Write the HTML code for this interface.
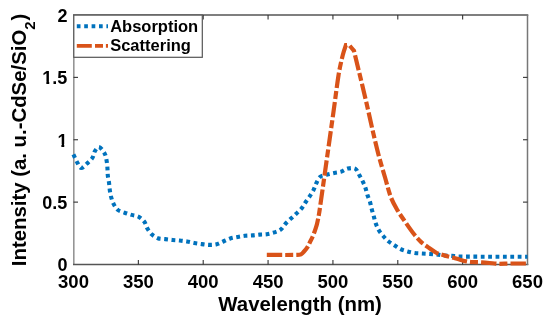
<!DOCTYPE html>
<html><head><meta charset="utf-8"><style>
html,body{margin:0;padding:0;background:#fff;width:550px;height:321px;overflow:hidden}
svg{display:block}
text{font-family:"Liberation Sans",Arial,sans-serif;font-weight:bold;fill:#000}
</style></head><body>
<svg width="550" height="321" viewBox="0 0 550 321">
<rect width="550" height="321" fill="#fff"/>
<g stroke="#333" stroke-width="1.1" fill="none">
<line x1="73.8" y1="15" x2="73.8" y2="265" stroke="#959595" stroke-width="1.6"/>
<line x1="73" y1="15.1" x2="528.3" y2="15.1" stroke="#555" stroke-width="1.5"/>
<line x1="73" y1="264.6" x2="528.3" y2="264.6" stroke="#555" stroke-width="1.5"/>
<line x1="527.5" y1="15" x2="527.5" y2="265" stroke="#777" stroke-width="1.5"/>
<line x1="138.36" y1="264.50" x2="138.36" y2="260.00"/>
<line x1="138.36" y1="15.00" x2="138.36" y2="19.50"/>
<line x1="203.21" y1="264.50" x2="203.21" y2="260.00"/>
<line x1="203.21" y1="15.00" x2="203.21" y2="19.50"/>
<line x1="268.07" y1="264.50" x2="268.07" y2="260.00"/>
<line x1="268.07" y1="15.00" x2="268.07" y2="19.50"/>
<line x1="332.93" y1="264.50" x2="332.93" y2="260.00"/>
<line x1="332.93" y1="15.00" x2="332.93" y2="19.50"/>
<line x1="397.79" y1="264.50" x2="397.79" y2="260.00"/>
<line x1="397.79" y1="15.00" x2="397.79" y2="19.50"/>
<line x1="462.64" y1="264.50" x2="462.64" y2="260.00"/>
<line x1="462.64" y1="15.00" x2="462.64" y2="19.50"/>
<line x1="73.50" y1="202.12" x2="78.00" y2="202.12"/>
<line x1="527.50" y1="202.12" x2="523.00" y2="202.12"/>
<line x1="73.50" y1="139.75" x2="78.00" y2="139.75"/>
<line x1="527.50" y1="139.75" x2="523.00" y2="139.75"/>
<line x1="73.50" y1="77.38" x2="78.00" y2="77.38"/>
<line x1="527.50" y1="77.38" x2="523.00" y2="77.38"/>
</g>
<g>
<path d="M73.40,154.40 C74.77,157.23 75.94,160.18 77.50,162.90 C78.54,164.71 79.74,167.91 81.20,168.00 C82.90,168.11 85.19,165.13 87.00,163.50 C88.89,161.80 90.95,160.10 92.30,158.00 C93.62,155.94 93.73,153.09 95.00,151.00 C95.96,149.42 97.72,146.68 99.00,147.00 C100.92,147.48 103.26,150.98 104.60,153.40 C105.79,155.55 106.12,158.23 106.60,160.70 C107.05,163.00 107.21,165.36 107.40,167.70 C107.61,170.29 107.52,172.92 107.80,175.50 C108.05,177.85 108.68,180.16 109.00,182.50 C109.35,185.02 109.43,187.58 109.80,190.10 C110.16,192.52 110.55,194.95 111.20,197.30 C111.85,199.62 112.58,201.98 113.70,204.10 C114.82,206.22 116.08,208.56 117.90,210.00 C119.71,211.43 122.33,211.89 124.60,212.70 C126.90,213.52 129.25,214.23 131.60,214.90 C133.92,215.56 136.54,215.59 138.60,216.70 C140.80,217.89 142.90,219.78 144.40,221.80 C145.87,223.78 146.24,226.54 147.50,228.70 C148.67,230.70 150.01,232.75 151.70,234.30 C153.47,235.92 155.65,237.40 157.90,238.20 C160.15,239.00 162.77,238.80 165.20,239.10 C167.70,239.40 170.19,239.76 172.70,240.00 C175.03,240.22 177.37,240.26 179.70,240.50 C182.14,240.76 184.58,241.09 187.00,241.50 C189.45,241.92 191.85,242.57 194.30,243.00 C196.79,243.44 199.29,243.78 201.80,244.10 C204.23,244.41 206.66,244.87 209.10,244.90 C211.60,244.93 214.19,244.88 216.60,244.30 C218.89,243.75 221.00,242.43 223.20,241.50 C225.57,240.50 227.86,239.27 230.30,238.50 C232.73,237.74 235.29,237.36 237.80,236.90 C240.15,236.46 242.52,236.05 244.90,235.80 C247.35,235.55 249.84,235.60 252.30,235.40 C254.74,235.20 257.16,234.80 259.60,234.60 C261.99,234.40 264.43,234.55 266.80,234.20 C269.33,233.82 271.86,233.19 274.30,232.40 C276.46,231.69 278.85,231.07 280.60,229.70 C282.65,228.10 283.88,225.46 285.70,223.50 C287.25,221.83 289.03,220.36 290.70,218.80 C292.53,217.09 294.39,215.43 296.20,213.70 C298.02,211.96 300.02,210.35 301.60,208.40 C303.19,206.45 304.29,204.10 305.70,202.00 C307.06,199.97 308.58,198.05 309.90,196.00 C311.24,193.92 312.59,191.81 313.70,189.60 C314.76,187.48 315.33,185.11 316.40,183.00 C317.49,180.85 318.41,178.20 320.20,176.80 C322.04,175.36 324.90,175.16 327.30,174.50 C329.60,173.86 331.96,173.39 334.30,172.90 C336.62,172.42 339.06,172.32 341.30,171.60 C343.53,170.89 345.45,169.07 347.70,168.60 C350.12,168.10 353.32,167.67 355.30,168.70 C357.09,169.63 357.84,172.52 359.00,174.50 C360.28,176.69 361.49,178.92 362.60,181.20 C363.63,183.32 364.63,185.48 365.40,187.70 C366.19,189.98 366.56,192.40 367.30,194.70 C368.06,197.07 369.17,199.32 369.90,201.70 C370.64,204.09 371.06,206.58 371.70,209.00 C372.32,211.34 373.05,213.66 373.70,216.00 C374.35,218.33 374.79,220.73 375.60,223.00 C376.46,225.40 377.43,227.80 378.70,230.00 C379.90,232.07 381.45,233.97 383.00,235.80 C384.55,237.63 386.17,239.46 388.00,241.00 C389.74,242.46 391.78,243.57 393.70,244.80 C395.98,246.27 398.17,247.93 400.60,249.10 C402.81,250.16 405.23,250.84 407.60,251.50 C409.89,252.14 412.24,252.67 414.60,253.00 C417.01,253.34 419.47,253.35 421.90,253.50 C424.50,253.65 427.10,253.74 429.70,253.90 C432.03,254.04 434.38,254.15 436.70,254.40 C439.31,254.68 441.89,255.24 444.50,255.50 C446.92,255.74 449.37,255.73 451.80,255.90 C454.20,256.07 456.59,256.45 459.00,256.50 C469.33,256.72 479.67,256.65 490.00,256.70 C502.50,256.75 515.00,256.77 527.50,256.80" fill="none" stroke="#0072BD" stroke-width="4.1" stroke-dasharray="3.8 3.585"/>
<path d="M266.80,254.90 C276.87,254.90 286.95,255.08 297.00,254.90 C298.35,254.88 299.84,254.86 301.00,254.30 C302.18,253.73 303.08,252.51 304.00,251.50 C305.18,250.21 306.37,248.87 307.30,247.40 C308.37,245.71 309.10,243.80 310.00,242.00 C310.83,240.33 311.76,238.71 312.50,237.00 C313.36,235.04 314.10,233.02 314.80,231.00 C315.60,228.69 316.41,226.37 317.00,224.00 C317.81,220.70 318.42,217.35 319.00,214.00 C319.62,210.45 320.09,206.87 320.60,203.30 C322.89,187.20 325.13,171.10 327.40,155.00 C329.47,140.33 331.55,125.67 333.60,111.00 C335.25,99.14 336.68,87.24 338.50,75.40 C339.21,70.77 340.20,66.18 341.20,61.60 C341.87,58.54 342.64,55.51 343.50,52.50 C344.21,50.04 345.10,47.63 345.90,45.20 C347.03,45.20 348.17,45.20 349.30,45.20 C350.87,47.07 352.43,48.93 354.00,50.80 C358.10,67.97 362.28,85.12 366.30,102.30 C368.64,112.32 370.77,122.38 373.10,132.40 C374.90,140.12 376.67,147.84 378.70,155.50 C380.70,163.04 383.01,170.51 385.20,178.00 C387.05,184.34 388.49,190.84 390.80,197.00 C392.43,201.34 394.66,205.49 397.00,209.50 C399.63,214.02 402.72,218.29 405.70,222.60 C408.42,226.55 411.12,230.55 414.10,234.30 C416.28,237.05 418.65,239.70 421.20,242.10 C423.08,243.87 425.28,245.31 427.40,246.80 C430.45,248.94 433.43,251.28 436.70,253.00 C438.63,254.02 440.89,254.36 443.00,255.00 C444.73,255.53 446.45,256.05 448.20,256.50 C449.99,256.95 451.82,257.22 453.60,257.70 C455.76,258.28 457.85,259.08 460.00,259.70 C462.12,260.31 464.24,260.95 466.40,261.40 C467.91,261.72 469.46,261.91 471.00,262.00 C474.59,262.21 478.21,262.07 481.80,262.30 C486.04,262.57 490.26,263.13 494.50,263.50 C496.00,263.63 497.50,263.80 499.00,263.80 C502.66,263.80 506.33,263.54 510.00,263.50 C515.83,263.44 521.67,263.50 527.50,263.50" fill="none" stroke="#D95319" stroke-width="4.2" stroke-dasharray="15.4 3 8 3.1"/>
</g>
<defs><clipPath id="one10"><rect x="0" y="0" width="550" height="144.05"/><rect x="61.39" y="0" width="2.86" height="321"/><rect x="67.40" y="0" width="550" height="321"/></clipPath><clipPath id="one15"><rect x="0" y="0" width="550" height="81.67"/><rect x="46.37" y="0" width="2.86" height="321"/><rect x="52.39" y="0" width="550" height="321"/></clipPath></defs>
<g font-size="18">
<text x="73.50" y="287.6" text-anchor="middle" font-size="18.5">300</text>
<text x="138.36" y="287.6" text-anchor="middle" font-size="18.5">350</text>
<text x="203.21" y="287.6" text-anchor="middle" font-size="18.5">400</text>
<text x="268.07" y="287.6" text-anchor="middle" font-size="18.5">450</text>
<text x="332.93" y="287.6" text-anchor="middle" font-size="18.5">500</text>
<text x="397.79" y="287.6" text-anchor="middle" font-size="18.5">550</text>
<text x="462.64" y="287.6" text-anchor="middle" font-size="18.5">600</text>
<text x="527.50" y="287.6" text-anchor="middle" font-size="18.5">650</text>
<text x="67.4" y="271.40" text-anchor="end">0</text>
<text x="67.4" y="209.03" text-anchor="end">0.5</text>
<text x="67.4" y="146.65" text-anchor="end" clip-path="url(#one10)">1</text>
<text x="67.4" y="84.28" text-anchor="end" clip-path="url(#one15)">1.5</text>
<text x="67.4" y="21.90" text-anchor="end">2</text>
</g>
<text x="300.1" y="311.4" font-size="20.4" text-anchor="middle">Wavelength (nm)</text>
<text transform="translate(26,266.2) rotate(-90)" font-size="20.36">Intensity (a. u.-CdSe/SiO<tspan font-size="15" dx="0" dy="9.3">2</tspan><tspan dx="0.8" dy="-9.3">)</tspan></text>
<rect x="73.8" y="15.1" width="128.5" height="42.2" fill="#fff" stroke="#555" stroke-width="1.2"/>
<line x1="76.8" y1="26.2" x2="108" y2="26.2" stroke="#0072BD" stroke-width="4" stroke-dasharray="3.7 3.7"/>
<line x1="76.8" y1="45.9" x2="108" y2="45.9" stroke="#D95319" stroke-width="3.6" stroke-dasharray="15 3.2 8 2.9"/>
<text x="110.2" y="31.7" font-size="16.5">Absorption</text>
<text x="110.2" y="51.4" font-size="16.5">Scattering</text>
</svg>
</body></html>
